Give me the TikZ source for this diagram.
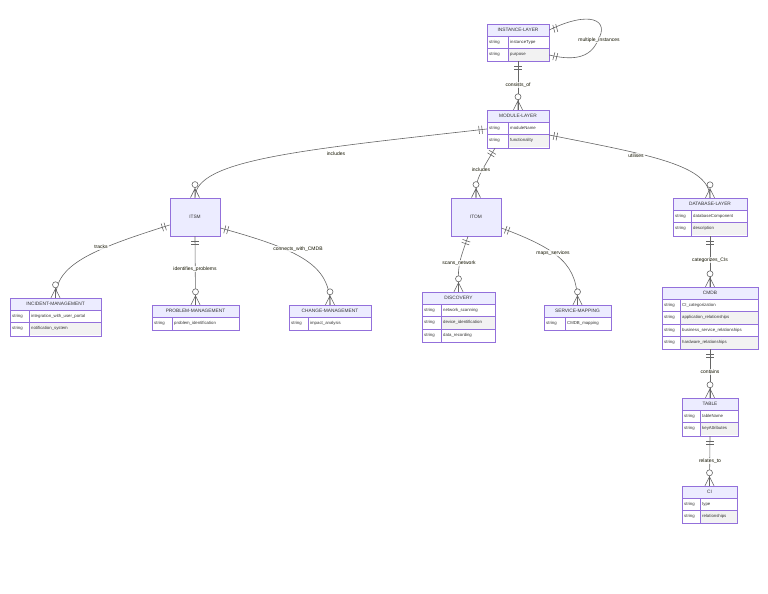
\documentclass[tikz,border=0pt]{standalone}
\usepackage{fontspec}
\setmainfont{Liberation Sans}
\begin{document}
\begin{tikzpicture}[x=1pt,y=-1pt,
  erline/.style={draw=erpurple,line width=0.8pt},
  conn/.style={draw=gray!80!black,line width=0.6pt},
  lbl/.style={fill=white,fill opacity=0.8,text opacity=1,inner sep=1pt,text=lblcol,font=\fontsize{5}{6}\selectfont},
  ttl/.style={font=\fontsize{4.8}{6}\selectfont,text=black!80},
  att/.style={font=\fontsize{4.3}{5}\selectfont,text=black!80,anchor=west,inner sep=0}]
\definecolor{erpurple}{HTML}{9370DB}
\definecolor{hdr}{HTML}{ECECFF}
\definecolor{rowg}{HTML}{F2F2F2}
\definecolor{lblcol}{HTML}{131300}
\useasboundingbox (0,0) rectangle (768,594);
\newcommand\erent[8]{%
  \node[inner sep=0,minimum width={#5pt-#3pt},minimum height={#6pt-#4pt}] (#1) at ({(#3+#5)/2},{(#4+#6)/2}) {};
  \fill[hdr] (#3,#4) rectangle (#5,#4+12);
  \node[ttl] at ({(#3+#5)/2},#4+6) {#2};
  \foreach \t/\n [count=\i] in {#8} {
    \pgfmathsetmacro\ya{#4+12+12.5*(\i-1)}
    \ifodd\i\else\fill[rowg] (#7,\ya) rectangle (#5,\ya+12.5);\fi
    \draw[erline] (#3,\ya) -- (#5,\ya);
    \node[att] at (#3+2,\ya+6.25) {\t};
    \node[att] at (#7+2,\ya+6.25) {\n};
  }
  \draw[erline] (#7,#4+12) -- (#7,#6);
  \draw[erline] (#3,#4) rectangle (#5,#6);
}
\newcommand\markone[2]{\begin{scope}[shift={#1},rotate=-#2]
  \draw[conn] (5pt,-4pt)--(5pt,4pt) (8pt,-4pt)--(8pt,4pt);\end{scope}}
\newcommand\markmany[2]{\begin{scope}[shift={#1},rotate=-#2]
  \draw[conn] (0pt,-4.5pt)--(9pt,0pt) (0pt,4.5pt)--(9pt,0pt) (0pt,0pt)--(10pt,0pt);
  \draw[conn,fill=white] (13pt,0pt) circle (3pt);\end{scope}}
% entities
\erent{inst}{INSTANCE-LAYER}{487}{24}{549}{61}{508}{string/instanceType,string/purpose}
\erent{modl}{MODULE-LAYER}{487}{110}{549}{148}{508}{string/moduleName,string/functionality}
\node[draw=erpurple,line width=0.8pt,fill=hdr,minimum width=50pt,minimum height=38pt,ttl] (itsm) at (195,217) {ITSM};
\node[draw=erpurple,line width=0.8pt,fill=hdr,minimum width=50pt,minimum height=38pt,ttl] (itom) at (476,217) {ITOM};
\erent{dbl}{DATABASE-LAYER}{673}{198}{747}{236}{691}{string/databaseComponent,string/description}
\erent{inc}{INCIDENT-MANAGEMENT}{10}{298}{101}{336}{29}{string/integration\_with\_user\_portal,string/notification\_system}
\erent{prb}{PROBLEM-MANAGEMENT}{152}{305}{239}{330}{172}{string/problem\_identification}
\erent{chg}{CHANGE-MANAGEMENT}{289}{305}{371}{330}{308}{string/impact\_analysis}
\erent{dsc}{DISCOVERY}{422}{292}{495}{342}{441}{string/network\_scanning,string/device\_identification,string/data\_recording}
\erent{svc}{SERVICE-MAPPING}{544}{305}{611}{330}{565}{string/CMDB\_mapping}
\erent{cmdb}{CMDB}{662}{287}{758}{349}{680}{string/CI\_categorization,string/application\_relationships,string/business\_service\_relationships,string/hardware\_relationships}
\erent{tbl}{TABLE}{682}{398}{738}{436}{700}{string/tableName,string/keyAttributes}
\erent{ci}{CI}{682}{486}{737}{523}{700}{string/type,string/relationships}
% connectors
\draw[conn] (inst.east|-0,30) .. controls (590,10) and (610,20) .. (598,40) .. controls (590,60) and (570,60) .. (inst.east|-0,55);
\node[lbl] at (599,40) {multiple\_instances};
\markone{(549,30)}{345}\markone{(549,55)}{15}
\draw[conn] (inst.south) -- (modl.north);
\node[lbl] at (518,85) {consists\_of};
\markone{(inst.south)}{90}\markmany{(modl.north)}{270}
\draw[conn] (modl.west|-0,129) .. controls (300,150) and (195,160) .. (itsm.north);
\node[lbl] at (336,154) {includes};
\markone{(487,129)}{173.6}\markmany{(itsm.north)}{270}
\draw[conn] (modl.south-|495,0) .. controls (476,180) .. (itom.north);
\node[lbl] at (481,170) {includes};
\markone{(495,148)}{121}\markmany{(itom.north)}{270}
\draw[conn] (modl.east|-0,135) .. controls (650,155) and (710,165) .. (dbl.north);
\node[lbl] at (636,156) {utilises};
\markone{(549,135)}{11.2}\markmany{(dbl.north)}{270}
\draw[conn] (itsm.west|-0,225) .. controls (90,250) and (56,265) .. (inc.north);
\node[lbl] at (101,247) {tracks};
\markone{(170,225)}{162.6}\markmany{(inc.north)}{270}
\draw[conn] (itsm.south) -- (prb.north);
\node[lbl] at (195,269) {identifies\_problems};
\markone{(itsm.south)}{90}\markmany{(prb.north)}{270}
\draw[conn] (itsm.east|-0,228) .. controls (300,250) and (330,265) .. (chg.north);
\node[lbl] at (298,249) {connects\_with\_CMDB};
\markone{(220,228)}{15.4}\markmany{(chg.north)}{270}
\draw[conn] (itom.south-|468,0) .. controls (458,265) .. (dsc.north);
\node[lbl] at (459,263) {scans\_network};
\markone{(468,236)}{109}\markmany{(dsc.north)}{270}
\draw[conn] (itom.east|-0,228) .. controls (560,250) and (578,265) .. (svc.north);
\node[lbl] at (553,253) {maps\_services};
\markone{(501,228)}{20.4}\markmany{(svc.north)}{270}
\draw[conn] (dbl.south) -- (cmdb.north);
\node[lbl] at (710,260) {categorizes\_CIs};
\markone{(dbl.south)}{90}\markmany{(cmdb.north)}{270}
\draw[conn] (cmdb.south) -- (tbl.north);
\node[lbl] at (710,372) {contains};
\markone{(cmdb.south)}{90}\markmany{(tbl.north)}{270}
\draw[conn] (tbl.south) -- (ci.north);
\node[lbl] at (710,461) {relates\_to};
\markone{(tbl.south)}{90}\markmany{(ci.north)}{270}
\end{tikzpicture}
\end{document}
